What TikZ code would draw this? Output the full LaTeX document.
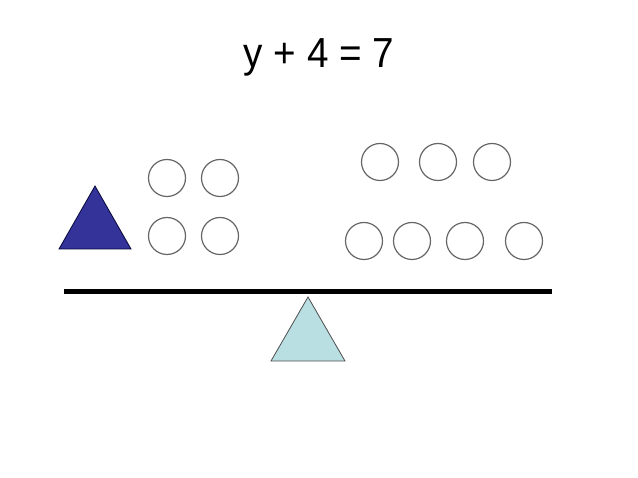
\documentclass[tikz,border=0pt]{standalone}
\usepackage{fontspec}
\setmainfont{Liberation Sans}
\begin{document}
\begin{tikzpicture}[x=1pt,y=-1pt,
  unit/.style={circle,draw=black!60,line width=1.2pt,minimum size=37pt,inner sep=0pt},
  weight/.style={draw=black!80!blue,line width=0.8pt,fill=blueweight},
  pivot/.style={draw=black!70,line width=0.8pt,fill=pivotfill}]
\definecolor{blueweight}{HTML}{333399}
\definecolor{pivotfill}{HTML}{BADFE3}
\useasboundingbox (0,0) rectangle (638,478);
\node (title) at (319,57) {\scalebox{0.92}[1]{\fontsize{42}{50}\selectfont y + 4 = 7}};
% left pan
\draw[weight] (95,186) -- (131,249) -- (59,249) -- cycle;
\node[unit] (l1) at (167,178) {};
\node[unit] (l2) at (220,178) {};
\node[unit] (l3) at (167,236) {};
\node[unit] (l4) at (220,236) {};
% right pan
\node[unit] (r1) at (380,162) {};
\node[unit] (r2) at (438,162) {};
\node[unit] (r3) at (492,162) {};
\node[unit] (r4) at (364,241) {};
\node[unit] (r5) at (412,241) {};
\node[unit] (r6) at (465,241) {};
\node[unit] (r7) at (524,241) {};
% beam and fulcrum
\draw[line width=5pt] (64,292) -- (552,292);
\draw[pivot] (308,297) -- (345,361) -- (271,361) -- cycle;
\end{tikzpicture}
\end{document}
